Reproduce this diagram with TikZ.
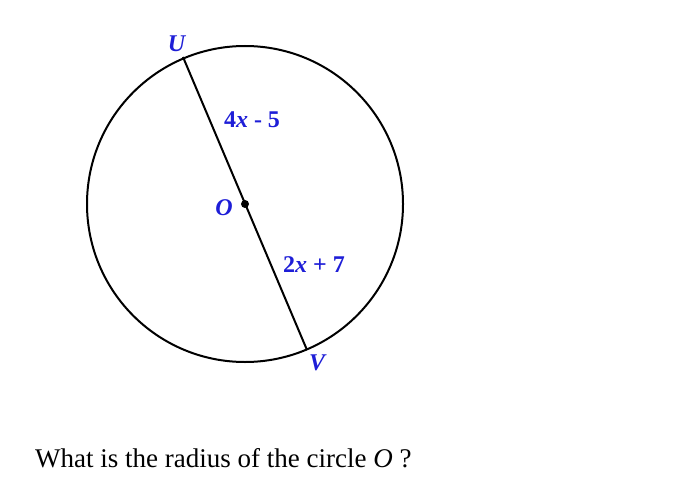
\documentclass[tikz,border=0pt]{standalone}
\usepackage{fontspec}
\setmainfont{Liberation Serif}
\definecolor{lblblue}{RGB}{30,30,215}
\begin{document}
\begin{tikzpicture}[x=1pt,y=-1pt,
  lbl/.style={text=lblblue,font=\fontsize{24}{26}\selectfont\bfseries,inner sep=0pt},
  geo/.style={line width=2pt,black}]
\useasboundingbox (0,0) rectangle (700,500);
\coordinate (O) at (245,204);
\draw[geo] (O) circle (158);
\path (O) ++(-62,-147) coordinate (U);
\path (O) ++(62,146) coordinate (V);
\draw[geo] (U) -- (V);
\fill (O) circle (4);
\node[lbl] (lU) at (177,44) {\textit{U}};
\node[lbl] (lV) at (318,363) {\textit{V}};
\node[lbl] (lO) at (224,208) {\textit{O}};
\node[lbl] (l1) at (252,120) {4\textit{x} - 5};
\node[lbl] (l2) at (314,265) {2\textit{x} + 7};
\node[inner sep=0pt,anchor=west,font=\fontsize{27}{30}\selectfont] (q) at (35,458) {What is the radius of the circle \textit{O} ?};
\end{tikzpicture}
\end{document}
